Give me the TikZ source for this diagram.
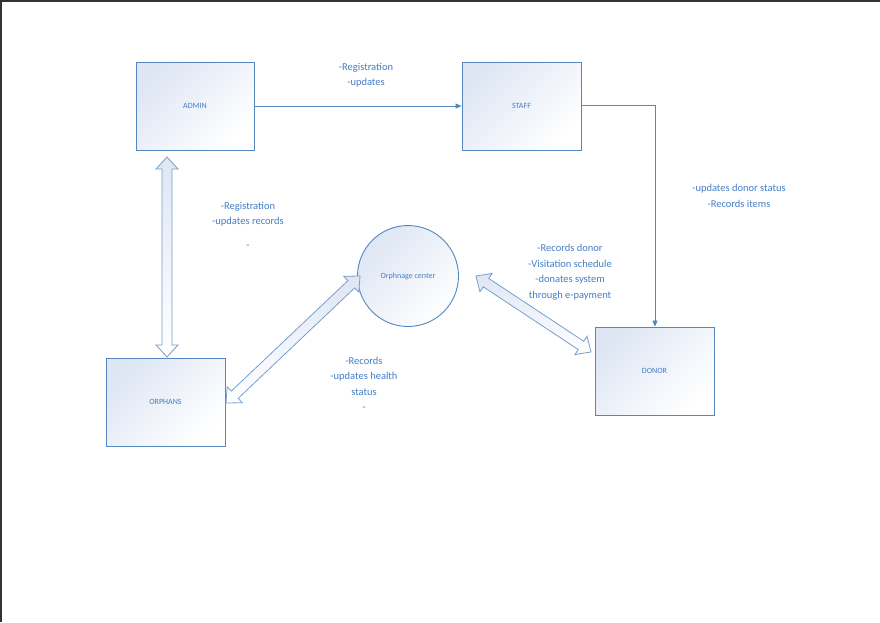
\documentclass[tikz,border=0pt]{standalone}
\usepackage{fontspec}
\setmainfont{Carlito}
\usetikzlibrary{calc,arrows.meta}
\definecolor{bl}{RGB}{84,135,192}
\definecolor{tx}{RGB}{68,125,196}
\definecolor{sh}{RGB}{222,230,244}
\tikzset{
 ent/.style={draw=bl,line width=0.9pt,top color=sh,bottom color=white,shading angle=45},
 lbl/.style={text=tx,font=\fontsize{8}{9}\selectfont},
 note/.style={text=tx,font=\fontsize{10.5}{15.5}\selectfont,align=center},
 flow/.style={draw=bl,line width=0.8pt,-{Triangle[length=6pt,width=5pt]}},
 fat/.style={draw=bl!80,line width=0.8pt,top color=sh,bottom color=white}
}
\newcommand{\dblarrow}[2]{%
 \path let \p1=(#1), \p2=(#2), \n1={atan2(\y2-\y1,\x2-\x1)}, \n2={veclen(\x2-\x1,\y2-\y1)} in
  [fat, shift={(\p1)}, rotate=\n1] (0,0) -- (12,11) -- (12,5) -- ({\n2-12},5) -- ({\n2-12},11) -- (\n2,0)
  -- ({\n2-12},-11) -- ({\n2-12},-5) -- (12,-5) -- (12,-11) -- cycle;}
\begin{document}
\begin{tikzpicture}[x=1pt,y=1pt]
\useasboundingbox (0,0) rectangle (880,-622);
\draw[line width=2pt,black!80] (1,-622) -- (1,-1) -- (880,-1);
\node[ent,minimum width=118pt,minimum height=88pt,lbl] (admin) at (195,-106) {ADMIN};
\node[ent,minimum width=119pt,minimum height=88pt,lbl] (staff) at (521.5,-106) {STAFF};
\node[ent,minimum width=119pt,minimum height=88pt,lbl] (orph) at (165.5,-402) {ORPHANS};
\node[ent,minimum width=119pt,minimum height=88pt,lbl] (donor) at (654.5,-371) {DONOR};
\node[ent,circle,minimum size=101pt,inner sep=0pt,lbl] (center) at (408,-276) {Orphnage center};
\draw[flow] (admin.east) -- (staff.west);
\coordinate (bend) at (655,-105);
\draw[flow] (staff.east |- bend) -- (bend) -- (bend |- donor.north);
\coordinate (a1) at (167,-157); \coordinate (a2) at (167,-357);
\dblarrow{a1}{a2}
\coordinate (b1) at (226,-403); \coordinate (b2) at (360,-276);
\dblarrow{b1}{b2}
\coordinate (c1) at (476,-276); \coordinate (c2) at (591,-352);
\dblarrow{c1}{c2}
\node[note] (n1) at (366,-75) {-Registration\\-updates};
\node[note] (n2) at (739,-196) {-updates donor status\\-Records items};
\node[note] (n3) at (248,-225) {-Registration\\-updates records\\[8pt]-};
\node[note] (n4) at (570,-272) {-Records donor\\-Visitation schedule\\-donates system\\through e-payment};
\node[note] (n5) at (364,-384) {-Records\\-updates health\\status\\-};
\end{tikzpicture}
\end{document}
